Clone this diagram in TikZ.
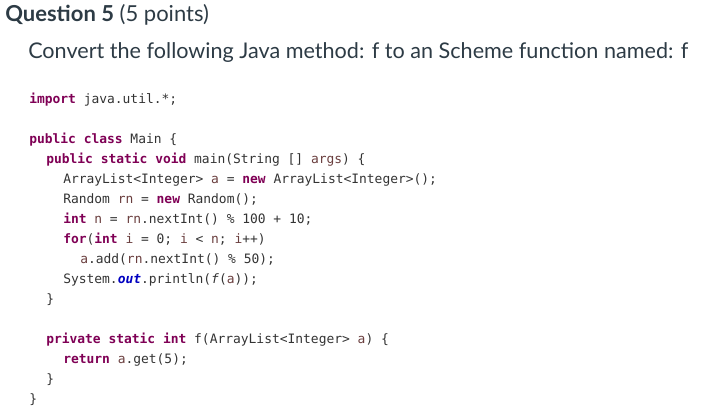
\documentclass[tikz,border=0pt]{standalone}
\usepackage{fontspec}
\setmainfont{Lato}
\setmonofont{DejaVu Sans Mono}
\definecolor{kw}{HTML}{7F0055}
\definecolor{vr}{HTML}{6A3E3E}
\definecolor{fl}{HTML}{0000C0}
\definecolor{tx}{HTML}{2D3B45}
\newcommand{\K}[1]{\textcolor{kw}{\textbf{#1}}}
\newcommand{\V}[1]{\textcolor{vr}{#1}}
\tikzset{code/.style={anchor=base west,inner sep=0,font=\ttfamily\fontsize{9.7}{11}\selectfont,text=black!80},
 ttl/.style={anchor=base west,inner sep=0,text=tx}}
\begin{document}
\begin{tikzpicture}[x=0.75pt,y=-0.75pt]
\useasboundingbox (0,0) rectangle (714,416);
\node[ttl,font=\fontsize{16.5}{19}\selectfont] (t) at (5,22) {\textbf{Question 5} (5 points)};
\node[ttl,font=\fontsize{16.2}{19}\selectfont] (q) at (28,59) {Convert the following Java method: f to an Scheme function named: f};
\node[code] (l1) at (29,104) {\K{import} java.util.*;};
\node[code] (l2) at (29,144) {\K{public} \K{class} Main \{};
\node[code] (l3) at (46,164) {\K{public} \K{static} \K{void} main(String [] \V{args}) \{};
\node[code] (l4) at (63,184) {ArrayList<Integer> \V{a} = \K{new} ArrayList<Integer>();};
\node[code] (l5) at (63,204) {Random \V{rn} = \K{new} Random();};
\node[code] (l6) at (63,224) {\K{int} \V{n} = \V{rn}.nextInt() \% 100 + 10;};
\node[code] (l7) at (63,244) {\K{for}(\K{int} \V{i} = 0; \V{i} < \V{n}; \V{i}++)};
\node[code] (l8) at (80,264) {\V{a}.add(\V{rn}.nextInt() \% 50);};
\node[code] (l9) at (63,284) {System.\textcolor{fl}{\textbf{\textit{out}}}.println(\textit{f}(\V{a}));};
\node[code] (l10) at (46,304) {\}};
\node[code] (l11) at (46,344) {\K{private} \K{static} \K{int} f(ArrayList<Integer> \V{a}) \{};
\node[code] (l12) at (63,364) {\K{return} \V{a}.get(5);};
\node[code] (l13) at (46,384) {\}};
\node[code] (l14) at (29,404) {\}};
\end{tikzpicture}
\end{document}
